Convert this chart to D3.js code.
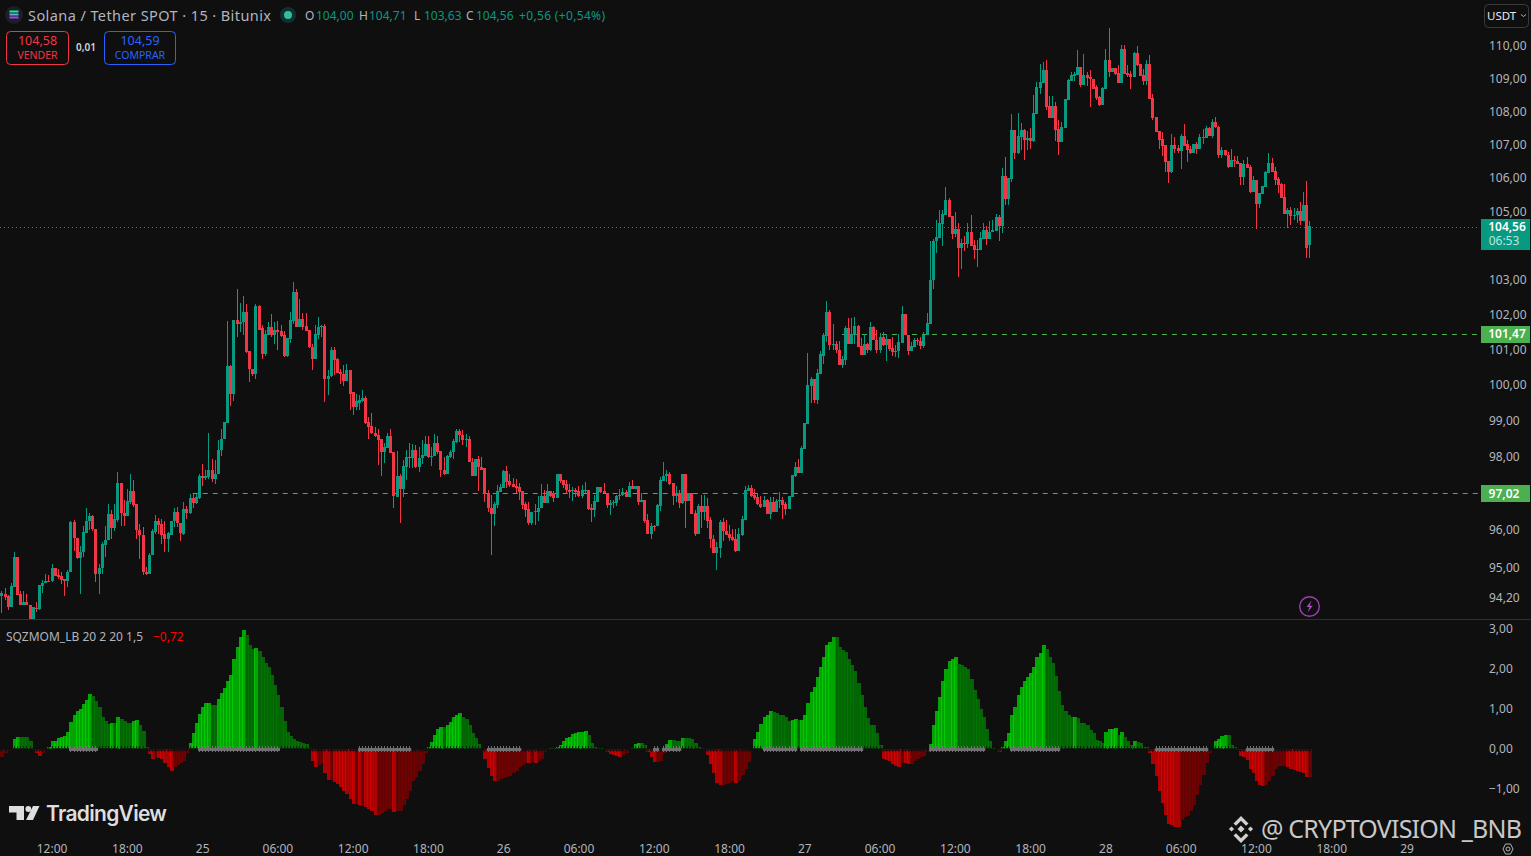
<!DOCTYPE html>
<html>
<head>
<meta charset="utf-8">
<title>Solana / Tether SPOT 15 Bitunix</title>
<script src="https://cdn.jsdelivr.net/npm/d3@7"></script>
<style>
html, body { margin: 0; padding: 0; background: #0f0f0f; overflow: hidden; }
svg { display: block; }
text { font-family: "Noto Sans", sans-serif; }
</style>
</head>
<body>
<script>
// 15 minute candles, one row = 10 candles
const opens = [
94.23,94.30,94.23,93.95,94.48,95.29,94.29,94.00,94.08,94.01,
93.60,93.93,93.90,94.51,94.59,94.65,94.63,94.99,94.79,94.76,
94.68,94.63,94.87,96.21,95.79,95.24,95.42,95.92,96.24,96.37,
96.03,94.82,94.98,95.61,95.73,96.45,96.05,96.28,97.29,96.47,
96.37,96.75,97.05,96.70,96.01,95.88,94.88,94.82,95.32,95.95,
96.26,96.17,95.90,95.77,95.88,96.24,96.48,96.19,95.90,96.57,
96.47,96.87,96.74,96.87,97.46,97.42,97.45,97.63,97.38,97.52,
98.18,98.49,98.94,100.52,99.74,101.83,101.72,101.78,102.06,100.95,
100.46,100.32,102.23,101.60,100.86,101.41,101.63,101.41,101.57,101.52,
101.41,100.82,101.29,101.81,102.64,101.64,101.86,101.67,101.57,101.08,
100.72,101.41,101.63,101.67,100.18,100.24,100.98,100.72,100.36,100.32,
100.10,100.41,99.79,99.38,99.50,99.55,99.63,98.95,98.84,98.67,
98.60,98.49,98.13,98.24,98.57,98.13,96.90,97.46,97.11,97.72,
97.99,97.97,98.18,97.72,97.96,98.03,98.35,97.99,98.02,98.37,
98.15,97.63,97.53,98.0,98.13,98.4,98.7,98.6,98.47,98.48,
97.85,97.46,97.93,97.73,97.68,97.0,96.61,96.45,96.68,97.03,
97.14,97.6,97.33,97.24,97.19,97.16,97.05,96.7,96.57,96.19,
96.5,96.5,96.6,96.92,96.73,97.05,97.0,96.86,97.52,97.35,
97.24,97.1,97.05,97.08,97.05,96.92,97.08,97.08,96.59,96.54,
96.76,97.16,97.05,97.0,96.67,96.73,96.73,96.92,96.94,97.03,
96.89,97.19,97.11,97.19,96.76,96.81,96.28,95.9,96.11,96.1,
96.65,97.33,97.46,97.52,97.27,96.92,97.0,96.73,97.52,96.79,
97.0,96.47,95.9,96.65,96.5,96.65,96.27,95.77,95.39,95.53,
96.22,95.99,95.9,95.81,95.77,95.45,95.88,96.27,97.05,97.14,
96.94,96.89,96.72,96.63,96.81,96.45,96.75,96.48,96.79,96.81,
96.7,96.56,96.89,97.47,97.71,97.56,98.21,98.92,99.97,100.16,
99.59,100.3,100.83,101.38,102.06,101.12,101.17,101.0,100.55,100.7,
101.6,101.17,101.41,101.66,101.09,100.84,101.15,100.98,101.63,101.28,
100.99,101.37,101.14,101.3,101.04,100.94,100.95,101.2,102.02,101.4,
100.95,101.07,101.26,101.25,101.09,101.4,101.74,103.0,104.12,104.22,
104.63,104.9,105.35,104.85,104.34,104.49,103.93,104.08,104.05,104.38,
104.02,103.87,103.87,104.2,104.46,104.2,104.4,104.42,104.82,104.58,
106.04,105.38,105.95,107.42,106.73,107.22,107.42,107.12,107.18,107.09,
107.91,108.72,108.87,109.27,108.15,107.78,108.15,107.45,107.06,107.48,
108.33,108.93,109.07,109.09,109.36,108.81,109.09,109.05,108.99,108.75,
108.43,108.19,108.69,109.55,109.21,109.33,109.15,108.87,109.89,109.15,
109.12,109.03,109.77,109.43,109.09,108.93,109.43,108.39,107.81,107.39,
107.15,106.97,106.49,106.16,106.97,106.88,106.79,107.24,107.0,106.85,
106.73,107.0,106.85,107.18,107.18,107.48,107.24,107.66,107.51,106.67,
106.82,106.67,106.31,106.52,106.49,106.43,106.01,106.4,106.31,105.56,
105.92,105.23,105.5,105.72,106.13,106.43,106.19,105.95,105.8,105.44,
104.93,105.05,104.85,104.88,105.0,104.73,105.2,104.0
];
const highs = [
94.37,94.44,94.26,94.59,95.42,95.29,94.37,94.37,94.30,94.01,
93.94,94.08,94.52,94.67,94.83,94.79,95.10,94.99,94.96,94.87,
94.70,94.92,96.26,96.28,95.79,95.56,96.12,96.59,96.46,96.40,
96.03,95.10,95.67,96.12,96.70,96.55,96.72,97.58,97.29,96.81,
97.13,97.54,97.35,96.70,96.17,96.08,95.01,95.38,96.03,96.40,
96.33,96.31,96.26,95.94,96.26,96.61,96.63,96.19,96.75,96.65,
96.97,96.97,96.97,97.54,97.79,97.65,98.67,97.93,97.91,98.46,
98.78,98.95,101.80,100.55,101.83,102.72,102.34,102.52,102.29,100.95,
100.46,102.31,102.28,101.69,101.57,101.78,102.00,101.78,101.81,101.69,
101.53,101.32,102.06,102.95,102.72,102.44,102.03,102.03,101.57,101.15,
101.69,101.92,101.69,101.74,100.41,101.06,101.06,100.75,100.46,100.55,
100.60,100.41,99.79,99.74,99.71,99.85,99.69,99.11,99.22,98.83,
98.78,98.49,98.37,98.67,98.78,98.13,98.15,97.54,97.92,98.18,
98.37,98.35,98.32,98.27,98.46,98.57,98.57,98.27,98.62,98.57,
98.17,97.99,98.05,98.2,98.5,98.78,98.77,98.75,98.62,98.57,
97.97,97.93,98.02,97.99,97.68,97.1,96.94,96.75,97.22,97.25,
97.63,97.74,97.54,97.41,97.38,97.27,97.05,96.75,96.75,96.5,
96.7,96.92,97.25,97.08,97.25,97.05,97.05,97.52,97.52,97.35,
97.35,97.24,97.16,97.14,97.19,97.22,97.3,97.08,96.7,96.94,
97.16,97.16,97.27,97.0,96.83,96.81,96.95,97.11,97.14,97.08,
97.3,97.35,97.19,97.19,97.0,96.81,96.45,96.2,96.15,96.7,
97.44,97.85,97.63,97.58,97.27,97.19,97.08,97.54,97.52,97.0,
97.0,96.54,96.7,96.94,96.94,96.86,96.35,95.86,95.69,96.27,
96.33,96.27,96.15,96.04,96.02,96.07,96.37,97.19,97.22,97.22,
97.11,97.0,96.92,96.92,96.84,96.89,96.89,96.84,97.03,96.89,
96.75,96.92,97.49,97.87,97.93,98.31,98.94,100.9,100.22,100.16,
100.45,100.95,101.46,102.38,102.12,101.74,101.23,101.23,100.83,101.66,
101.89,101.89,101.92,101.69,101.32,101.43,101.2,101.78,101.66,101.55,
101.47,101.51,101.45,101.3,101.35,101.14,101.45,102.23,102.02,101.4,
101.22,101.33,101.33,101.35,101.5,102.05,104.14,104.18,104.75,105.03,
105.03,105.71,105.41,104.85,104.99,104.67,104.2,104.29,104.65,104.88,
104.17,104.17,104.4,104.67,104.58,104.73,104.76,104.91,104.88,106.28,
106.63,105.98,107.9,107.42,107.93,107.63,107.45,107.39,107.48,108.48,
108.9,109.45,109.5,109.56,108.45,108.45,108.27,107.72,107.66,108.36,
108.99,109.21,109.21,109.86,109.36,109.74,109.21,109.27,108.99,108.81,
108.46,108.75,109.89,110.54,109.33,109.33,109.4,110.02,110.02,109.4,
109.24,109.8,109.99,109.43,109.3,109.55,109.71,108.51,107.81,107.39,
107.36,106.97,106.49,107.3,107.21,106.97,107.3,107.6,107.12,106.94,
107.0,107.06,107.3,107.45,107.54,107.51,107.75,107.81,107.54,106.91,
106.82,106.76,106.85,106.64,106.64,106.43,106.52,106.61,106.38,106.04,
105.92,105.53,105.74,106.19,106.73,106.58,106.31,106.01,105.83,105.8,
105.11,105.14,105.11,105.11,105.29,105.56,105.89,104.71
];
const lows = [
93.78,94.13,93.86,93.95,94.48,94.26,94.00,94.00,94.00,93.6,
93.6,93.82,93.87,94.32,94.59,94.61,94.61,94.76,94.70,94.57,
94.23,94.48,94.87,95.45,95.22,94.30,95.27,95.92,96.00,95.99,
94.61,94.30,94.83,95.27,95.73,95.76,95.99,96.21,96.12,96.12,
96.37,96.72,96.63,95.77,95.22,94.79,94.80,94.82,95.32,95.90,
95.90,95.63,95.40,95.40,95.86,96.08,96.08,95.72,95.86,96.30,
96.45,96.59,96.70,96.85,97.19,97.37,97.40,97.31,97.24,97.52,
98.02,98.49,98.94,99.40,99.55,101.36,101.50,101.41,100.90,100.08,
100.24,100.17,101.55,100.72,100.83,101.41,101.36,101.15,100.98,101.36,
100.80,100.80,101.20,101.74,101.64,101.64,101.57,101.52,101.04,100.41,
100.72,101.29,101.36,99.52,99.71,100.22,100.27,100.33,100.03,99.98,
100.10,99.31,99.17,99.29,99.29,99.52,98.90,98.49,98.64,98.55,
97.77,97.46,97.82,98.24,98.10,96.59,96.90,96.18,96.90,97.37,
97.68,97.68,97.70,97.58,97.80,98.02,97.98,97.74,98.02,98.08,
97.45,97.50,97.53,97.97,97.95,98.38,98.42,98.33,98.27,97.85,
97.46,97.46,97.05,97.65,96.75,96.48,95.34,96.12,96.6,97.03,
97.14,97.14,97.17,97.16,97.0,96.83,96.57,96.36,96.15,96.15,
96.15,96.25,96.6,96.73,96.73,96.9,96.75,96.86,97.28,97.14,
96.97,96.86,96.78,96.9,96.9,96.86,97.0,96.54,96.23,96.35,
96.76,97.0,96.97,96.61,96.4,96.61,96.65,96.83,96.92,96.89,
96.89,97.11,97.11,96.67,96.76,96.18,95.9,95.75,95.97,96.1,
96.51,97.33,97.3,97.22,96.67,96.76,96.59,96.7,96.07,96.78,
96.43,95.83,95.9,96.07,96.27,96.07,95.53,95.39,94.93,95.25,
95.72,95.86,95.72,95.72,95.42,95.45,95.85,96.27,97.05,96.9,
96.83,96.67,96.6,96.63,96.45,96.31,96.48,96.48,96.59,96.29,
96.4,96.56,96.89,97.45,97.56,97.56,98.21,98.92,99.5,99.5,
99.47,100.3,100.59,101.21,100.98,100.98,100.89,100.55,100.49,100.55,
101.17,101.17,101.17,101.06,100.84,100.84,100.89,100.95,101.26,100.89,
100.89,101.11,100.68,100.96,100.82,100.78,100.75,101.2,101.4,100.85,
100.95,101.07,101.12,101.01,101.04,101.4,101.72,102.72,103.78,104.22,
103.99,104.9,104.82,104.2,104.26,103.09,103.3,103.85,103.93,103.99,
103.59,103.36,103.87,104.2,104.02,104.2,104.38,104.42,104.14,104.37,
105.2,105.2,105.86,106.55,106.7,106.82,106.52,106.82,106.85,107.06,
107.91,108.53,108.87,108.05,107.78,107.78,107.09,106.67,107.06,107.48,
108.33,108.93,108.93,109.09,108.75,108.81,108.78,108.12,108.69,108.35,
108.16,108.19,108.69,109.03,109.21,109.09,108.87,108.87,109.12,109.05,
108.66,109.03,109.37,109.06,108.81,108.81,108.36,107.72,107.36,106.85,
106.64,106.16,105.83,106.13,106.73,106.73,106.25,106.94,106.46,106.7,
106.73,106.7,106.85,107.0,107.18,107.24,107.18,107.48,106.58,106.58,
106.64,106.28,106.31,106.31,106.4,105.77,105.79,106.28,105.53,105.56,
104.49,105.11,105.5,105.72,106.13,106.16,105.79,105.53,105.41,104.93,
104.52,104.61,104.76,104.67,104.61,104.73,103.64,103.63
];
const closes = [
94.32,94.22,93.95,94.50,95.29,94.26,94.00,94.08,94.00,93.63,
93.94,93.90,94.52,94.59,94.65,94.63,94.99,94.76,94.74,94.67,
94.65,94.89,96.21,95.79,95.24,95.42,95.94,96.25,96.37,96.03,
94.82,94.99,95.63,95.74,96.45,96.05,96.29,97.29,96.47,96.37,
96.78,97.05,96.67,96.01,95.86,94.87,94.82,95.34,95.99,96.26,
96.15,95.88,95.77,95.92,96.26,96.48,96.19,95.92,96.57,96.46,
96.87,96.74,96.89,97.46,97.42,97.46,97.63,97.38,97.54,98.20,
98.50,98.95,100.52,99.74,101.83,101.72,101.78,102.06,100.92,100.44,
100.32,102.23,101.57,100.86,101.43,101.63,101.41,101.57,101.50,101.38,
100.82,101.32,101.83,102.64,101.64,101.86,101.64,101.54,101.06,100.72,
101.43,101.63,101.67,100.18,100.26,100.98,100.69,100.35,100.32,100.10,
100.41,99.75,99.38,99.55,99.57,99.63,98.93,98.82,98.65,98.57,
98.46,98.13,98.27,98.57,98.10,96.92,97.46,97.11,97.74,97.99,
97.97,98.18,97.72,97.96,98.05,98.35,97.99,98.02,98.37,98.13,
97.63,97.53,98.01,98.14,98.45,98.7,98.6,98.47,98.48,97.85,
97.46,97.93,97.71,97.65,96.97,96.61,96.45,96.7,97.05,97.16,
97.6,97.3,97.22,97.16,97.14,97.03,96.68,96.54,96.19,96.5,
96.52,96.61,96.92,96.73,97.05,96.92,96.86,97.52,97.33,97.22,
97.08,97.03,97.08,97.03,96.92,97.08,97.09,96.56,96.54,96.78,
97.16,97.03,97.0,96.67,96.73,96.75,96.92,96.95,97.03,96.89,
97.19,97.11,97.19,96.76,96.81,96.26,95.9,96.11,96.1,96.67,
97.35,97.46,97.52,97.25,96.92,97.0,96.73,97.52,96.79,97.0,
96.45,95.9,96.65,96.5,96.65,96.24,95.75,95.39,95.55,96.22,
95.97,95.88,95.79,95.74,95.45,95.9,96.29,97.08,97.14,96.92,
96.86,96.7,96.63,96.81,96.45,96.75,96.48,96.79,96.81,96.67,
96.56,96.92,97.49,97.71,97.56,98.23,98.94,99.99,100.16,99.59,
100.33,100.86,101.4,102.06,101.12,101.17,100.98,100.55,100.72,101.6,
101.17,101.43,101.66,101.06,100.84,101.15,100.98,101.63,101.26,101.0,
101.37,101.14,101.3,101.01,100.94,100.97,101.22,102.02,101.4,100.95,
101.09,101.26,101.23,101.09,101.42,101.76,103.0,104.14,104.25,104.65,
104.93,105.35,104.82,104.34,104.49,103.93,104.08,104.05,104.38,103.99,
103.87,103.9,104.22,104.46,104.2,104.4,104.44,104.82,104.58,106.04,
105.38,105.98,107.42,106.73,107.24,107.42,107.12,107.18,107.09,107.93,
108.75,108.9,109.27,108.12,107.78,108.15,107.42,107.06,107.51,108.36,
108.96,109.09,109.12,109.36,108.81,109.09,109.02,108.98,108.69,108.41,
108.19,108.71,109.55,109.21,109.33,109.12,108.87,109.89,109.12,109.09,
109.03,109.77,109.4,109.06,108.93,109.43,108.36,107.78,107.36,107.12,
106.94,106.46,106.16,106.97,106.85,106.79,107.24,106.94,106.82,106.73,
107.0,106.85,107.21,107.21,107.48,107.24,107.66,107.51,106.67,106.82,
106.67,106.31,106.52,106.49,106.4,106.01,106.4,106.28,105.56,105.92,
105.23,105.53,105.74,106.16,106.43,106.16,105.92,105.77,105.41,104.93,
105.05,104.85,104.88,105.0,104.73,105.2,103.93,104.56
];
// squeeze momentum, one value per candle
const momentum = [
-.22,-.1,-.05,-.04,.23,.28,.28,.28,.28,.19,
-.03,-.1,-.19,-.12,-.05,.03,.18,.2,.26,.29,
.31,.42,.67,.83,.95,1.0,1.12,1.22,1.36,1.32,
1.2,1.03,.78,.7,.62,.65,.63,.78,.74,.68,
.65,.63,.68,.71,.6,.45,.03,-.14,-.25,-.22,
-.24,-.25,-.35,-.47,-.55,-.45,-.4,-.35,-.3,-.12,
.15,.4,.63,.87,1.05,1.13,1.14,1.1,1.08,1.23,
1.38,1.52,1.68,1.83,2.25,2.55,2.8,2.96,2.85,2.6,
2.5,2.52,2.44,2.3,2.15,2.03,1.83,1.6,1.33,1.05,
.68,.42,.32,.25,.2,.17,.15,.12,.02,-.3,
-.45,-.4,-.37,-.62,-.78,-.78,-.83,-.88,-.95,-1.05,
-1.13,-1.25,-1.38,-1.38,-1.41,-1.41,-1.45,-1.5,-1.55,-1.65,
-1.65,-1.6,-1.55,-1.5,-1.5,-1.58,-1.55,-1.55,-1.4,-1.25,
-1.05,-.8,-.7,-.55,-.38,-.1,.05,.17,.35,.5,
.53,.53,.58,.67,.8,.85,.88,.78,.75,.6,
.38,.27,.12,-.02,-.25,-.48,-.68,-.8,-.8,-.76,
-.74,-.72,-.68,-.62,-.56,-.45,-.4,-.36,-.37,-.34,
-.35,-.32,-.25,-.08,-.03,.02,.02,.05,.1,.18,
.27,.3,.36,.4,.41,.42,.43,.35,.13,.05,
.02,.01,-.02,-.09,-.14,-.17,-.18,-.2,-.15,-.1,
-.02,.02,.12,.13,.13,.1,-.08,-.22,-.33,-.33,
-.3,-.12,.12,.21,.21,.2,.18,.26,.26,.26,
.25,.15,.04,.02,-.02,-.15,-.38,-.62,-.85,-.9,
-.9,-.88,-.85,-.8,-.85,-.8,-.65,-.5,-.33,-.02,
.25,.42,.62,.78,.85,.93,.92,.89,.85,.83,
.78,.7,.72,.73,.71,.72,.85,1.13,1.42,1.55,
1.78,2.05,2.3,2.6,2.67,2.8,2.8,2.55,2.47,2.42,
2.25,2.1,1.93,1.65,1.33,1.05,.77,.58,.58,.38,
.1,-.25,-.28,-.32,-.38,-.44,-.46,-.36,-.37,-.38,
-.38,-.3,-.25,-.22,-.18,-.08,.12,.6,.95,1.3,
1.68,2.0,2.2,2.25,2.3,2.12,2.08,2.03,2.0,1.75,
1.47,1.25,1.0,.78,.5,.2,.02,-.02,-.09,.05,
.18,.4,.84,1.05,1.35,1.55,1.7,1.8,1.9,2.05,
2.28,2.4,2.6,2.5,2.3,2.15,1.82,1.45,1.08,.93,
.85,.78,.79,.76,.65,.63,.58,.47,.38,.22,
.18,.15,.42,.48,.5,.52,.35,.42,.3,.2,
.1,.18,.17,.14,.05,.03,-.1,-.38,-.68,-1.05,
-1.35,-1.67,-1.88,-1.92,-1.95,-1.96,-1.78,-1.72,-1.68,-1.55,
-1.4,-1.15,-.9,-.65,-.37,-.12,-.02,.2,.24,.32,
.34,.33,.1,.04,-.04,-.18,-.2,-.28,-.5,-.62,
-.8,-.92,-.94,-.9,-.82,-.68,-.52,-.44,-.44,-.44,
-.45,-.52,-.54,-.55,-.58,-.62,-.72,-.72
];
// candle index ranges where the squeeze is on (grey crosses)
const squeezeRanges = [[22,30],[63,88],[114,130],[155,165],[208,209],[211,216],[243,253],[255,274],[296,313],[322,337],[368,384],[397,405]];

const priceTicks = [110,109,108,107,106,105,103,102,101,100,99,98,96,95,94.2];
const momentumTicks = [3,2,1,0,-1];
const timeLabels = ["12:00","18:00","25","06:00","12:00","18:00","26","06:00","12:00","18:00","27","06:00","12:00","18:00","28","06:00","12:00","18:00","29"];
const timeIndex = [16,40,64,88,112,136,160,184,208,232,256,280,304,328,352,376,400,424,448];

const lastPrice = 104.56;
const levels = [{value: 97.02, from: 61}, {value: 101.47, from: 268}];

const width = 1531, height = 856;
const bg = "#0f0f0f", up = "#089981", down = "#f23645", axisCol = "#b2b5be", levelCol = "#4caf50";

const comma = v => d3.format(".2f")(v).replace(".", ",").replace("-", "\u2212");

const svg = d3.select("body").append("svg").attr("width", width).attr("height", height);
svg.append("rect").attr("width", width).attr("height", height).attr("fill", bg);

// scales
const x = d3.scaleLinear().domain([0, 448]).range([1.4, 1406.5]);
const y = d3.scaleLog().domain([95, 110]).range([567.4, 45.9]);
const yMom = d3.scaleLinear().domain([-1, 3]).range([788.5, 628.5]);

const candleIdx = d3.range(closes.length);

svg.append("clipPath").attr("id", "pricePane").append("rect")
  .attr("x", 0).attr("y", 0).attr("width", 1480).attr("height", 619);

const pane = svg.append("g").attr("clip-path", "url(#pricePane)");

// last price dotted line and the two green levels
const lineY = v => Math.floor(y(v)) + 1.5;
pane.append("line")
  .attr("x1", 0).attr("x2", 1480).attr("y1", lineY(lastPrice)).attr("y2", lineY(lastPrice))
  .attr("stroke", up).attr("stroke-dasharray", "1,3");
pane.selectAll(".level").data(levels).enter().append("line")
  .attr("class", "level")
  .attr("x1", d => x(d.from)).attr("x2", 1480)
  .attr("y1", d => lineY(d.value)).attr("y2", d => lineY(d.value))
  .attr("stroke", levelCol).attr("stroke-dasharray", "5,5");

// candles
const candleCol = i => closes[i] >= opens[i] ? up : down;
pane.selectAll(".wick").data(candleIdx).enter().append("rect")
  .attr("class", "wick")
  .attr("x", i => Math.round(x(i)))
  .attr("width", 1)
  .attr("y", i => y(highs[i]))
  .attr("height", i => y(lows[i]) - y(highs[i]))
  .attr("fill", candleCol)
  .attr("shape-rendering", "crispEdges");
pane.selectAll(".body").data(candleIdx).enter().append("rect")
  .attr("class", "body")
  .attr("x", i => Math.round(x(i)) - 1)
  .attr("width", 3)
  .attr("y", i => y(Math.max(opens[i], closes[i])))
  .attr("height", i => Math.max(1, Math.abs(y(opens[i]) - y(closes[i]))))
  .attr("fill", candleCol)
  .attr("shape-rendering", "crispEdges");

// pane separator
svg.append("line").attr("x1", 0).attr("x2", width).attr("y1", 619.5).attr("y2", 619.5).attr("stroke", "#2f2e38");

// momentum histogram, colour follows the direction of the change
// bars are 4px on a 3px pitch, the see-through overlap gives the lighter stripes
const momCol = i => {
  const v = momentum[i], prev = i ? momentum[i - 1] : v;
  if (v >= 0) return v > prev ? "#00d800" : "#007a00";
  return v < prev ? "#e00000" : "#780000";
};
svg.selectAll(".mom").data(candleIdx).enter().append("rect")
  .attr("class", "mom")
  .attr("x", i => Math.round(x(i)) - 1)
  .attr("width", 4)
  .attr("y", i => Math.min(yMom(0), yMom(momentum[i])))
  .attr("height", i => Math.abs(yMom(momentum[i]) - yMom(0)))
  .attr("fill", momCol)
  .attr("fill-opacity", i => {
    const v = momentum[i], prev = i ? momentum[i - 1] : v;
    return (v >= 0 ? v > prev : v < prev) ? .75 : .8;
  })
  .attr("shape-rendering", "crispEdges");

// crosses on the zero line
const inSqueeze = i => squeezeRanges.some(r => i >= r[0] && i <= r[1]);
const crosses = svg.selectAll(".cross").data(candleIdx).enter().append("g")
  .attr("class", "cross")
  .attr("fill", i => inSqueeze(i) ? "#707070" : "#0f0f0f")
  .attr("opacity", i => inSqueeze(i) ? 1 : .75)
  .attr("shape-rendering", "crispEdges");
crosses.append("rect").attr("x", i => Math.round(x(i)) - 1).attr("y", yMom(0) - 1).attr("width", i => inSqueeze(i) ? 4 : 3).attr("height", 3);
crosses.append("rect").attr("x", i => Math.round(x(i))).attr("y", yMom(0) - 3).attr("width", 1).attr("height", 6);

// axes
const priceAxis = svg.append("g").attr("transform", "translate(1489,0)")
  .call(d3.axisRight(y).tickValues(priceTicks).tickFormat(comma).tickSize(0).tickPadding(0));
const momAxis = svg.append("g").attr("transform", "translate(1489,0)")
  .call(d3.axisRight(yMom).tickValues(momentumTicks).tickFormat(comma).tickSize(0).tickPadding(0));
const timeAxis = svg.append("g").attr("transform", "translate(0,844)")
  .call(d3.axisBottom(x).tickValues(timeIndex).tickFormat((d, i) => timeLabels[i]).tickSize(0).tickPadding(0));
[priceAxis, momAxis, timeAxis].forEach(a => {
  a.select(".domain").remove();
  a.selectAll("text").attr("fill", axisCol).style("font-size", "12px").style("font-family", '"Noto Sans", sans-serif');
});

function label(txt, px, py, col, size, opts) {
  opts = opts || {};
  return svg.append("text").attr("x", px).attr("y", py).attr("fill", col)
    .attr("text-anchor", opts.anchor || "start")
    .attr("font-weight", opts.weight || 400)
    .style("font-size", size + "px")
    .text(txt);
}

// price tags on the axis
svg.append("rect").attr("x", 1481).attr("y", 219).attr("width", 49).attr("height", 31).attr("fill", up);
label("104,56", 1507, 231, "#ffffff", 12, {anchor: "middle", weight: 600});
label("06:53", 1504, 245, "#bfe5de", 12, {anchor: "middle"});
svg.append("rect").attr("x", 1481).attr("y", 326).attr("width", 49).attr("height", 17).attr("fill", levelCol);
label("101,47", 1507, 338, "#ffffff", 12, {anchor: "middle", weight: 600});
svg.append("rect").attr("x", 1481).attr("y", 485).attr("width", 49).attr("height", 17).attr("fill", levelCol);
label("97,02", 1504, 497.5, "#ffffff", 12, {anchor: "middle", weight: 600});

// header
svg.append("circle").attr("cx", 14).attr("cy", 15).attr("r", 9).attr("fill", "#1c1f26");
[["#14f195", 11.5], ["#6fa8dc", 14.5], ["#9945ff", 17.5]].forEach(s => {
  svg.append("rect").attr("x", 9.5).attr("y", s[1] - 1).attr("width", 9).attr("height", 2).attr("fill", s[0]);
});
label("Solana / Tether SPOT \u00b7 15 \u00b7 Bitunix", 28, 20.5, axisCol, 14.5).attr("textLength", 243);
svg.append("circle").attr("cx", 288).attr("cy", 15).attr("r", 8).attr("fill", "#123029");
svg.append("circle").attr("cx", 288).attr("cy", 15).attr("r", 4).attr("fill", "#2fbf9e");
[["O", 305, "104,00", 316], ["H", 359, "104,71", 369], ["L", 414, "103,63", 424], ["C", 466, "104,56", 476]].forEach(d => {
  label(d[0], d[1], 20, axisCol, 12);
  label(d[2], d[3], 20, up, 12);
});
label("+0,56 (+0,54%)", 519, 20, up, 12).attr("textLength", 86);

// sell and buy boxes
svg.append("rect").attr("x", 6.5).attr("y", 31.5).attr("width", 62).attr("height", 33).attr("rx", 4).attr("fill", "none").attr("stroke", down);
label("104,58", 37.5, 45, down, 12.5, {anchor: "middle"});
label("VENDER", 37.5, 59, down, 10.5, {anchor: "middle"});
label("0,01", 86, 51, "#d1d4dc", 10, {anchor: "middle", weight: 600});
svg.append("rect").attr("x", 104.5).attr("y", 31.5).attr("width", 71).attr("height", 33).attr("rx", 4).attr("fill", "none").attr("stroke", "#2962ff");
label("104,59", 140, 45, "#2962ff", 12.5, {anchor: "middle"});
label("COMPRAR", 140, 59, "#2962ff", 10.5, {anchor: "middle"});

// currency button
svg.append("rect").attr("x", 1484.5).attr("y", 4.5).attr("width", 44).attr("height", 23).attr("rx", 4).attr("fill", bg).attr("stroke", "#3a3a3f");
label("USDT", 1487, 20, "#e6e8ee", 11.5);
svg.append("path").attr("d", "M1521 14.5l2.5 2 2.5-2").attr("fill", "none").attr("stroke", axisCol);

// indicator title
label("SQZMOM_LB 20 2 20 1,5", 6, 641, axisCol, 12);
label("\u22120,72", 153, 641, "#ff0000", 12);

// flash icon
svg.append("circle").attr("cx", 1309.5).attr("cy", 606.5).attr("r", 9.8).attr("fill", "none").attr("stroke", "#9c3fb5").attr("stroke-width", 1.4);
svg.append("path").attr("d", "M1311.5 600.5l-5 6.5h3l-2 5.5 5.2-6.8h-3z").attr("fill", "#a94cc4");

// TradingView logo
svg.append("path").attr("fill", "#dcdedf")
  .attr("d", "M9 806h15v14h-7.500v-7.500H9zM33 806h6.500l-6.500 14h-7z");
svg.append("circle").attr("cx", 28.3).attr("cy", 809).attr("r", 2.9).attr("fill", "#dcdedf");
label("TradingView", 46, 821, "#dcdedf", 21, {weight: 600}).style("font-family", "Inter, sans-serif").attr("textLength", 121);

// watermark
const wm = svg.append("g").attr("fill", "#d0d0d0");
[[1241, 829, 3.5], [1231.500, 829, 2.6], [1250.500, 829, 2.6]].forEach(d => {
  wm.append("path").attr("d", `M${d[0] - d[2]} ${d[1]}L${d[0]} ${d[1] - d[2]}L${d[0] + d[2]} ${d[1]}L${d[0]} ${d[1] + d[2]}Z`);
});
wm.append("path").attr("d", "M1241 816l7.500 7.500-2.500 2.200-5-5-5 5-2.500-2.200z");
wm.append("path").attr("d", "M1241 843l-7.500-7.500 2.500-2.200 5 5 5-5 2.500 2.200z");
label("@ CRYPTOVISION _BNB", 1261, 838, "#c8c8c8", 25).attr("textLength", 261);

// settings icon
svg.append("path").attr("d", "M1503 849l2.500-5h5l2.500 5-2.500 5h-5z").attr("fill", "none").attr("stroke", axisCol);
svg.append("circle").attr("cx", 1508).attr("cy", 849).attr("r", 2).attr("fill", "none").attr("stroke", axisCol);
</script>
</body>
</html>
